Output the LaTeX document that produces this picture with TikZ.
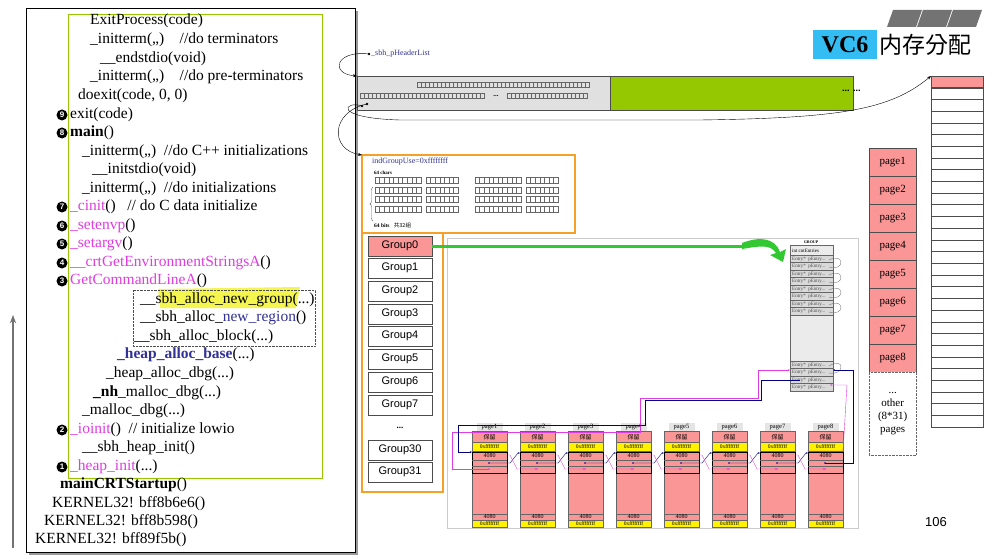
\documentclass[tikz,border=0pt]{standalone}
\usepackage{fontspec}
\setmainfont{Liberation Serif}
\newfontfamily\cjk{Noto Sans CJK TC}
\newfontfamily\sans{Liberation Sans}
\usetikzlibrary{arrows.meta,decorations.pathreplacing,shadows}
\definecolor{mag}{RGB}{225,60,225}
\definecolor{dblue}{RGB}{50,50,150}
\definecolor{pinkf}{RGB}{250,150,150}
\definecolor{lgreen}{RGB}{150,200,0}
\definecolor{orng}{RGB}{245,160,40}
\definecolor{brgreen}{RGB}{50,200,50}
\definecolor{hl}{RGB}{245,245,80}
\begin{document}
\begin{tikzpicture}[x=1pt,y=-1pt,
  ln/.style={anchor=west,inner sep=0pt,font=\fontsize{15.5}{16}\selectfont},
  num/.style={circle,fill=black,text=white,inner sep=0pt,minimum size=11pt,font=\sans\bfseries\fontsize{8}{8}\selectfont},
  grp/.style={draw=black!70,fill=white,minimum width=64pt,minimum height=20pt,inner sep=0pt,font=\sans\fontsize{11}{11}\selectfont,drop shadow={shadow xshift=1pt,shadow yshift=-1pt}},
  pg/.style={draw=black!70,fill=pinkf,minimum width=47pt,minimum height=28pt,inner sep=0pt,font=\fontsize{11}{11}\selectfont},
  tiny/.style={inner sep=0pt,font=\fontsize{5}{5}\selectfont},
  cell/.style={draw=black!60,line width=0.3pt}]
\useasboundingbox (0,0) rectangle (994,559);
% ---------- left panel
\fill[black!40] (29,11) rectangle (358,555);
\node[draw=black,thick,fill=white,minimum width=329pt,minimum height=544pt,anchor=north west,inner sep=0pt] (panel) at (26,8) {};
\draw[lgreen,thick] (68,14) rectangle (322,478);
\fill[hl] (158,289) -- (300,287) -- (296,308) -- (160,308) -- cycle;
\draw[densely dotted,black!70] (133,290) rectangle (315,346);
\draw[-{Stealth},black!55,line width=1.2pt] (13,548) -- (13,315);
\node[ln] (l0) at (90,21) {ExitProcess(code)};
\node[ln] (l1) at (90,40) {\_initterm(,,)\quad //do terminators};
\node[ln] (l2) at (100,59) {\_\_endstdio(void)};
\node[ln] (l3) at (90,77) {\_initterm(,,)\quad //do pre-terminators};
\node[ln] (l4) at (78,96) {doexit(code, 0, 0)};
\node[ln] (l5) at (70,115) {exit(code)};
\node[ln] (l6) at (70,133) {\textbf{main}()};
\node[ln] (l7) at (82,152) {\_initterm(,,)\ \ //do C++ initializations};
\node[ln] (l8) at (92,170) {\_\_initstdio(void)};
\node[ln] (l9) at (82,189) {\_initterm(,,)\ \ //do initializations};
\node[ln] (l10) at (70,207) {\textcolor{mag}{\_cinit}()\ \ \ // do C data initialize};
\node[ln] (l11) at (70,226) {\textcolor{mag}{\_setenvp}()};
\node[ln] (l12) at (70,244) {\textcolor{mag}{\_setargv}()};
\node[ln] (l13) at (70,263) {\textcolor{mag}{\_\_crtGetEnvironmentStringsA}()};
\node[ln] (l14) at (70,281) {\textcolor{mag}{GetCommandLineA}()};
\node[ln] (l15) at (140,300) {\_\_sbh\_alloc\_new\_group(...)};
\node[ln] (l16) at (140,318) {\_\_sbh\_alloc\_\textcolor{dblue}{new\_region}()};
\node[ln] (l17) at (134,337) {\_\_sbh\_alloc\_block(...)};
\node[ln] (l18) at (117,355) {\textcolor{dblue}{\textbf{\_heap\_alloc\_base}}(...)};
\node[ln] (l19) at (106,374) {\_heap\_alloc\_dbg(...)};
\node[ln] (l20) at (93,393) {\textbf{\_nh}\_malloc\_dbg(...)};
\node[ln] (l21) at (82,411) {\_malloc\_dbg(...)};
\node[ln] (l22) at (70,430) {\textcolor{mag}{\_ioinit}()\ \ // initialize lowio};
\node[ln] (l23) at (82,448) {\_\_sbh\_heap\_init()};
\node[ln] (l24) at (70,467) {\textcolor{mag}{\_heap\_init}(...)};
\node[ln] (l25) at (60,485) {\textbf{mainCRTStartup}()};
\node[ln] (l26) at (52,504) {KERNEL32! bff8b6e6()};
\node[ln] (l27) at (44,522) {KERNEL32! bff8b598()};
\node[ln] (l28) at (35,540) {KERNEL32! bff89f5b()};
\foreach \n/\yy in {9/115,8/133,7/207,6/226,5/244,4/263,3/281,2/430,1/467}
  \node[num] (c\n) at (62,\yy) {\n};
% ---------- title
\foreach \i in {0,1,2}
  \fill[black!55] (893+30*\i,10) -- (922+30*\i,10) -- (916+30*\i,27) -- (887+30*\i,27) -- cycle;
\node[fill=cyan!80!white,minimum width=64pt,minimum height=29pt,inner sep=0pt,font=\bfseries\fontsize{24}{24}\selectfont] (vc) at (845,45) {VC6};
\node[anchor=west,inner sep=0pt,font=\cjk\fontsize{23}{23}\selectfont] (ttl) at (879,45) {内存分配};
\node[font=\sans\fontsize{13}{13}\selectfont] (pnum) at (936,522) {106};
% ---------- header list
\node[draw=black!70,fill=black!12,minimum width=253pt,minimum height=34pt,anchor=north west,inner sep=0pt] (hdr) at (357,76) {};
\node[draw=black!70,fill=lgreen,minimum width=243pt,minimum height=34pt,anchor=north west,inner sep=0pt] (hgreen) at (610,76) {};
\node[anchor=west,inner sep=0pt,font=\bfseries\fontsize{10}{10}\selectfont] (dots) at (842,91) {... ...};
\foreach \i in {0,...,42} \draw[cell] (417+4*\i,82) rectangle ++(4,5);
\foreach \i in {0,...,30} \draw[cell] (360+4*\i,93) rectangle ++(4,5);
\foreach \i in {0,...,19} \draw[cell] (507+4*\i,93) rectangle ++(4,5);
\node[inner sep=0pt,font=\bfseries\fontsize{7}{7}\selectfont] (hd) at (496,96) {...};
\node[anchor=west,inner sep=0pt,text=dblue,font=\fontsize{8}{8}\selectfont] (phl) at (371,54) {\_sbh\_pHeaderList};
\fill (369,54) circle (1.3pt) coordinate (pdot);
\fill (362,106) circle (1.3pt) coordinate (hd1);
\fill (367,104) circle (1.3pt) coordinate (hd2);
\draw[-{Stealth[length=4pt]}] (pdot) .. controls (335,50) and (330,74) .. (hdr.north west);
% right memory column
\node[draw=black!70,fill=pinkf,minimum width=52pt,minimum height=12pt,anchor=north west,inner sep=0pt] (r0) at (931,76) {};
\foreach \i in {1,...,29} \draw[black!70] (931,{76+11.7*\i}) rectangle (983,{87.7+11.7*\i});
\draw[-{Stealth[length=4pt]}] (hd1) .. controls (345,100) and (330,118) .. (400,120)
   -- (700,120) .. controls (840,118) and (890,110) .. (r0.north west);
% ---------- orange box
\coordinate (ind) at (362,155);
\draw[orng,line width=1.5pt] (362,155) rectangle (575,233);
\draw[-{Stealth[length=4pt]}] (hd2) .. controls (330,112) and (330,150) .. (ind);
\node[anchor=west,inner sep=0pt,text=dblue,font=\fontsize{8}{8}\selectfont] (iu) at (372,162) {indGroupUse=0xffffffff};
\node[anchor=west,inner sep=0pt,font=\bfseries\fontsize{5}{5}\selectfont] (c64) at (374,173) {64 chars};
\foreach \r in {0,...,3}{
  \foreach \i in {0,...,9} \draw[cell] ({375+4.6*\i},{177+9.7*\r}) rectangle ++(4.6,6);
  \foreach \i in {0,...,6} \draw[cell] ({426+4.6*\i},{177+9.7*\r}) rectangle ++(4.6,6);
  \foreach \i in {0,...,9} \draw[cell] ({475+4.6*\i},{177+9.7*\r}) rectangle ++(4.6,6);
  \foreach \i in {0,...,6} \draw[cell] ({526+4.6*\i},{177+9.7*\r}) rectangle ++(4.6,6);}
\draw[decorate,decoration={brace,amplitude=3pt},black!60] (373,221) -- (373,187);
\node[anchor=west,inner sep=0pt,font=\fontsize{5.5}{6}\selectfont] (b64) at (374,225) {\textbf{64 bits}，{\cjk 共32組}};
% groups column
\draw[orng,line width=1.5pt] (362,233) rectangle (443,492);
\foreach \n/\yy in {1/268,2/291,3/314,4/336,5/359,6/382,7/405,30/450,31/472}
  \node[grp] (g\n) at (400,\yy) {Group\n};
\node[grp,fill=pinkf] (g0) at (400,246) {Group0};
\node[inner sep=0pt,font=\bfseries\fontsize{9}{9}\selectfont] (gd) at (400,428) {...};
% ---------- group detail panel
\draw[black!20] (447,238) rectangle (858,528);
\node[draw=black!60,fill=black!8,minimum width=43pt,minimum height=145pt,anchor=north west,inner sep=0pt] (GRP) at (790,245) {};
\node[tiny,font=\bfseries\fontsize{4}{4}\selectfont] (gt) at (811,242) {GROUP};
\node[tiny,anchor=west] (ce) at (792,251) {int cntEntries};
\draw[black!60] (790,255) -- (833,255);
\foreach \i in {0,...,7}{
  \draw[black!60,fill=black!15] (790,{255+7.5*\i}) rectangle (833,{262.5+7.5*\i});
  \node[tiny,anchor=west,text=black!70] at (792,{259+7.5*\i}) {Entry*\ \ pEntry...};}
\foreach \i in {0,...,3}{
  \draw[black!60,fill=black!15] (790,{361+7.5*\i}) rectangle (833,{368.5+7.5*\i});
  \node[tiny,anchor=west,text=black!70] at (792,{365+7.5*\i}) {Entry*\ \ pEntry...};}
\foreach \i in {0,2,4,6}
  \draw[black!60,line width=0.3pt] (829,{260+7.5*\i}) .. controls (845,{252+7.5*\i}) and (845,{272+7.5*\i}) .. (829,{267+7.5*\i});
\draw[black!60,line width=0.3pt] (829,366) .. controls (845,356) and (845,376) .. (829,373);
% green arrow
\draw[brgreen,line width=3pt] (g0.east) -- (745,246);
\fill[brgreen] (742,243) .. controls (760,236) and (775,238) .. (780,252) -- (786,249) -- (783,262) -- (770,255) -- (776,253) .. controls (770,244) and (760,246) .. (742,249) -- cycle;
% pages
\foreach \i in {1,...,8}{
  \pgfmathsetmacro{\xo}{472+48*(\i-1)}
  \node[fill=black!10,minimum width=26pt,minimum height=8pt,inner sep=0pt,font=\fontsize{6.5}{6.5}\selectfont] (pl\i) at ({\xo+17.5},427) {page\i};
  \node[draw=black!60,fill=pinkf,minimum width=35pt,minimum height=96pt,anchor=north west,inner sep=0pt] (p\i) at (\xo,431) {};
  \node[draw=black!60,fill=yellow,minimum width=35pt,minimum height=9pt,inner sep=0pt,font=\fontsize{5.5}{5.5}\selectfont] (py\i) at ({\xo+17.5},446.5) {0xffffffff};
  \node[inner sep=0pt,font=\cjk\fontsize{6}{6}\selectfont] (pr\i) at ({\xo+17.5},437) {保留};
  \draw[black,line width=1pt] (\xo,452) rectangle ({\xo+35},473);
  \draw[black!60] (\xo,460) -- ({\xo+35},460) (\xo,466) -- ({\xo+35},466);
  \node[inner sep=0pt,font=\fontsize{6}{6}\selectfont] (pa\i) at ({\xo+17.5},456) {4080};
  \draw[black!60] (\xo,514) -- ({\xo+35},514);
  \node[inner sep=0pt,font=\fontsize{6}{6}\selectfont] (pb\i) at ({\xo+17.5},517) {4080};
  \node[draw=black!60,fill=yellow,minimum width=35pt,minimum height=7pt,inner sep=0pt,font=\fontsize{5.5}{5.5}\selectfont] (pz\i) at ({\xo+17.5},524) {0xffffffff};
  \fill[blue!60!black] ({\xo+17},463) circle (0.9pt);
  \fill[mag] ({\xo+17},469) circle (0.9pt);}
\foreach \i in {1,...,7}{
  \pgfmathsetmacro{\xo}{472+48*(\i-1)}
  \draw[blue!50!black,line width=0.4pt,-{Stealth[length=2pt]}] ({\xo+17},463) -- ({\xo+38},463) -- ({\xo+46},453) -- ({\xo+48},453);
  \draw[mag,line width=0.4pt,-{Stealth[length=2pt]}] ({\xo+35},455) -- ({\xo+38},455) -- ({\xo+45},469) -- ({\xo+65},469);}
\draw[mag,line width=0.4pt,-{Stealth[length=2pt]}] (489,469) -- (452,469) -- (452,432) -- (640,432) -- (640,398) -- (758,398) -- (758,370) -- (790,370);
\draw[blue!50!black,line width=0.4pt,-{Stealth[length=2pt]}] (800,380) -- (761,380) -- (761,400) -- (645,400) -- (645,425) -- (458,425) -- (458,452) -- (472,452);
\draw[blue!50!black,line width=0.4pt,-{Stealth[length=2pt]}] (825,463) -- (853,463) -- (853,370) -- (833,370);
\draw[mag,line width=0.4pt,-{Stealth[length=2pt]}] (807,451) -- (843,451) -- (847,385) -- (830,385);
% ---------- page column on right
\foreach \i in {1,...,8}
  \node[pg,anchor=north west] (q\i) at (869,{148+28*(\i-1)}) {page\i};
\node[draw=black!60,densely dotted,fill=white,minimum width=47pt,minimum height=83pt,anchor=north west,inner sep=0pt,
  align=center,font=\fontsize{11}{13}\selectfont] (qo) at (869,372) {...\\other\\(8*31)\\pages};
\end{tikzpicture}
\end{document}
